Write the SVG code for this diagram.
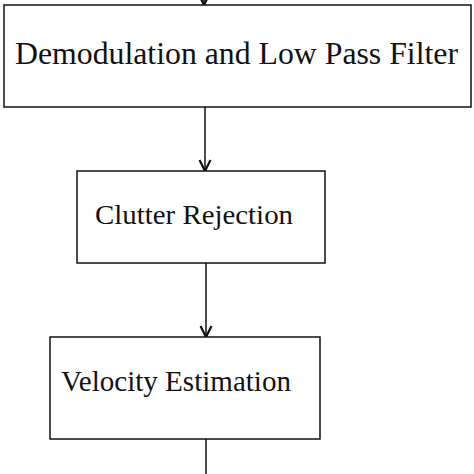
<svg xmlns="http://www.w3.org/2000/svg" width="474" height="474" viewBox="0 0 474 474">
<style>
.box{fill:#fff;stroke:#111;stroke-width:1.5}
.lbl{font-family:"Liberation Serif","Times New Roman",serif;fill:#111}
.ln{stroke:#111;stroke-width:1.5;fill:none}
</style>
<defs>
<marker id="ah" markerWidth="14" markerHeight="14" refX="12" refY="7" orient="auto" markerUnits="userSpaceOnUse" viewBox="0 0 14 14">
<path d="M1,1.5 L12,7 L1,12.5" fill="none" stroke="#111" stroke-width="2.2"/>
</marker>
</defs>
<rect width="474" height="474" fill="#fff"/>
<g id="connectors">
<line class="ln" x1="204" y1="-10" x2="204" y2="5" marker-end="url(#ah)"/>
<line class="ln" x1="205" y1="107" x2="205" y2="171" marker-end="url(#ah)"/>
<line class="ln" x1="206" y1="263" x2="206" y2="337" marker-end="url(#ah)"/>
<line class="ln" x1="206" y1="439" x2="206" y2="474"/>
</g>
<g id="node-demod">
<rect class="box" x="4" y="5" width="467" height="102"/>
<text class="lbl" x="15" y="64" font-size="31" textLength="443" lengthAdjust="spacingAndGlyphs">Demodulation and Low Pass Filter</text>
</g>
<g id="node-clutter">
<rect class="box" x="77" y="171" width="248" height="92"/>
<text class="lbl" x="95" y="224" font-size="28" textLength="198" lengthAdjust="spacingAndGlyphs">Clutter Rejection</text>
</g>
<g id="node-velocity">
<rect class="box" x="50" y="337" width="270" height="102"/>
<text class="lbl" x="61" y="391" font-size="29" textLength="230" lengthAdjust="spacingAndGlyphs">Velocity Estimation</text>
</g>
</svg>
